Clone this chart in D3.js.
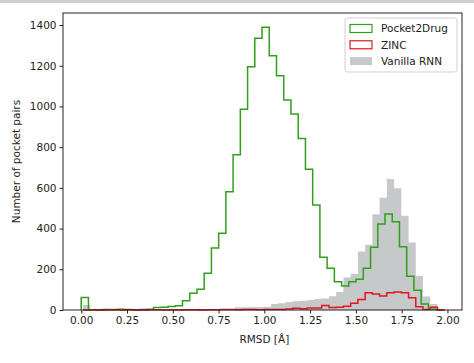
<!DOCTYPE html>
<html>
<head>
<meta charset="utf-8">
<script src="https://cdn.jsdelivr.net/npm/d3@7"></script>
<style>
  body { margin: 0; background: #fff; }
  svg { display: block; font-family: "DejaVu Sans", sans-serif; }
</style>
</head>
<body>
<div id="chart"></div>
<script>
// histogram bins: 50 bins each, same width, series start offsets
const binWidth = 0.0395;
const pocketStart = 0.0;
const rnnStart = 0.01;
const zincStart = 0.01;

const pocket2drug = [62, 1, 1, 2, 3, 4, 3, 1, 2, 4,
  12, 14, 17, 21, 45, 82, 102, 180, 305, 377,
  581, 763, 986, 1195, 1335, 1389, 1249, 1151, 1032, 963,
  843, 691, 516, 259, 205, 139, 118, 139, 151, 205,
  308, 422, 472, 434, 311, 166, 97, 30, 4, 1];

const vanillaRnn = [25, 3, 1, 1, 2, 1, 1, 2, 1, 1,
  1, 2, 1, 2, 2, 1, 2, 2, 3, 3,
  5, 13, 14, 14, 15, 16, 30, 33, 39, 43,
  46, 49, 54, 57, 67, 88, 160, 177, 287, 320,
  470, 552, 643, 598, 463, 332, 168, 66, 30, 3];

const zinc = [0, 1, 0, 1, 1, 0, 1, 0, 0, 1,
  1, 0, 1, 0, 1, 1, 0, 1, 1, 2,
  2, 1, 2, 2, 1, 2, 3, 3, 5, 8,
  6, 10, 10, 22, 12, 13, 18, 33, 52, 85,
  79, 69, 85, 88, 85, 60, 16, 2, 13, 0];

const xTicks = [0, 0.25, 0.5, 0.75, 1.0, 1.25, 1.5, 1.75, 2.0];
const yTicks = [0, 200, 400, 600, 800, 1000, 1200, 1400];
const legendNames = ["Pocket2Drug", "ZINC", "Vanilla RNN"];

const W = 474, H = 363;
const mLeft = 63, mTop = 13, mRight = 462, mBottom = 310;
const green = "#2f9f1c", red = "#e5141f", grey = "#c5c9c9", ink = "#222";

const svg = d3.select("#chart").append("svg")
  .attr("width", W)
  .attr("height", H);

// light strip along the top edge of the picture
svg.append("rect").attr("x", 0).attr("y", 0).attr("width", W).attr("height", 3)
  .attr("fill", "#cfcfcf");

const x = d3.scaleLinear().domain([-0.0995, 2.0795]).range([mLeft, mRight]);
const y = d3.scaleLinear().domain([0, 1459]).range([mBottom, mTop]);

function stepPoints(values, start) {
  let pts = [[start, 0]];
  values.forEach((v, i) => {
    pts.push([start + i * binWidth, v]);
    pts.push([start + (i + 1) * binWidth, v]);
  });
  pts.push([start + values.length * binWidth, 0]);
  return pts;
}

const line = d3.line().x(d => x(d[0])).y(d => y(d[1]));
const area = d3.area().x(d => x(d[0])).y0(y(0)).y1(d => y(d[1]));

const plot = svg.append("g");

plot.append("path")
  .attr("d", area(stepPoints(vanillaRnn, rnnStart)))
  .attr("fill", grey);

plot.append("path")
  .attr("d", line(stepPoints(pocket2drug, pocketStart)))
  .attr("fill", "none")
  .attr("stroke", green)
  .attr("stroke-width", 1.5);

plot.append("path")
  .attr("d", line(stepPoints(zinc, zincStart)))
  .attr("fill", "none")
  .attr("stroke", red)
  .attr("stroke-width", 1.5);

// frame
svg.append("rect")
  .attr("x", mLeft).attr("y", mTop)
  .attr("width", mRight - mLeft).attr("height", mBottom - mTop)
  .attr("fill", "none").attr("stroke", ink).attr("stroke-width", 1);

const xAxis = svg.append("g")
  .attr("transform", `translate(0,${mBottom})`)
  .call(d3.axisBottom(x).tickValues(xTicks).tickFormat(d3.format(".2f")).tickSize(3.5).tickPadding(3));
const yAxis = svg.append("g")
  .attr("transform", `translate(${mLeft},0)`)
  .call(d3.axisLeft(y).tickValues(yTicks).tickFormat(d3.format("d")).tickSize(3.5).tickPadding(3));

[xAxis, yAxis].forEach(g => {
  g.select(".domain").remove();
  g.selectAll("line").attr("stroke", ink);
  g.selectAll("text").attr("fill", ink)
    .style("font-family", "DejaVu Sans, sans-serif")
    .style("font-size", "10.5px");
});

svg.append("text")
  .attr("x", (x(0) + x(2)) / 2).attr("y", 343)
  .attr("text-anchor", "middle")
  .attr("fill", ink).style("font-size", "10.5px")
  .text("RMSD [Å]");

svg.append("text")
  .attr("transform", `translate(20,${(mTop + mBottom) / 2}) rotate(-90)`)
  .attr("text-anchor", "middle")
  .attr("fill", ink).style("font-size", "10.5px")
  .text("Number of pocket pairs");

// legend
const lg = svg.append("g");
lg.append("rect")
  .attr("x", 345).attr("y", 18).attr("width", 112).attr("height", 54)
  .attr("rx", 2.5)
  .attr("fill", "#fff").attr("fill-opacity", 0.85)
  .attr("stroke", "#d0d0d0").attr("stroke-width", 1);

const legendStyles = [
  { fill: "none", stroke: green },
  { fill: "none", stroke: red },
  { fill: grey, stroke: "none" }
];
legendNames.forEach((name, i) => {
  const cy = 28.5 + i * 16.3;
  lg.append("rect")
    .attr("x", 350).attr("y", cy - 4).attr("width", 22).attr("height", 8)
    .attr("fill", legendStyles[i].fill)
    .attr("stroke", legendStyles[i].stroke).attr("stroke-width", 1.2);
  lg.append("text")
    .attr("x", 381).attr("y", cy + 3.8)
    .attr("fill", ink).style("font-size", "10.5px")
    .text(name);
});
</script>
</body>
</html>
